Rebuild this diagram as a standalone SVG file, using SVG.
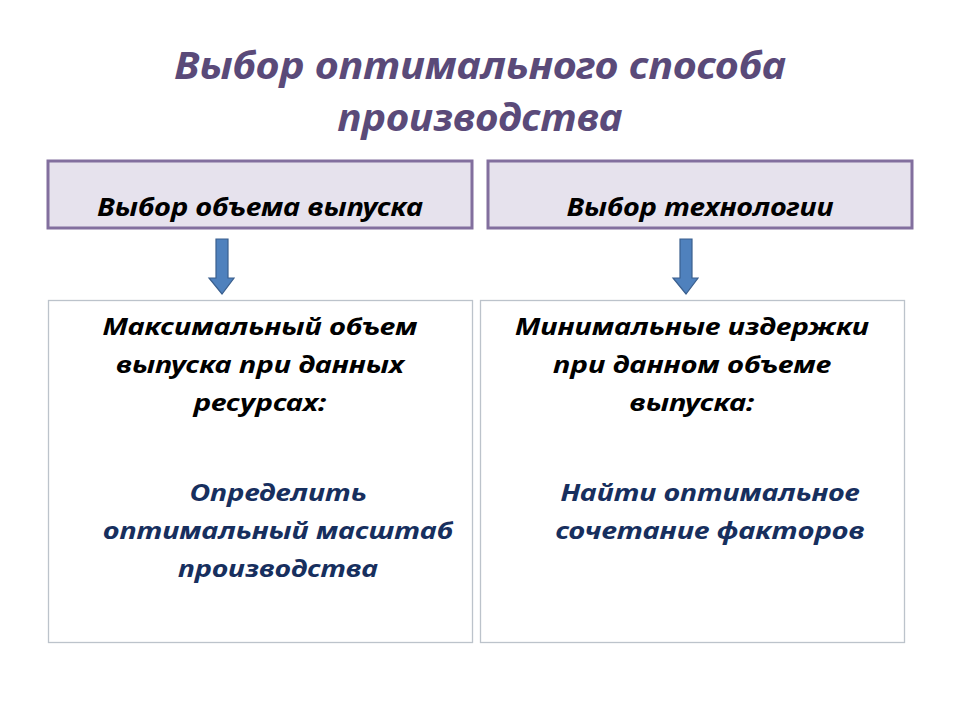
<svg xmlns="http://www.w3.org/2000/svg" width="960" height="720" viewBox="0 0 960 720">
<style>
  .t{font-family:"Noto Sans","Open Sans","DejaVu Sans",sans-serif;font-weight:bold;font-style:italic;text-anchor:middle}
  .title{font-size:37px;fill:#5a4a79}
  .hdr{font-size:25px;fill:#000}
  .blk{font-size:24px;fill:#000}
  .blu{font-size:24px;fill:#172f5e}
  .hbox{fill:#e6e2ed;stroke:#826f9e;stroke-width:3}
  .box{fill:#ffffff;stroke:#bcc3cb;stroke-width:1.3}
  .arr{fill:#4f81bd;stroke:#3a5f8e;stroke-width:1.2}
</style>
<rect width="960" height="720" fill="#ffffff"/>
<g id="title">
  <text class="t title" x="480" y="79" textLength="612" lengthAdjust="spacingAndGlyphs">Выбор оптимального способа</text>
  <text class="t title" x="480" y="131" textLength="285" lengthAdjust="spacingAndGlyphs">производства</text>
</g>
<g id="node-volume">
  <rect class="hbox" x="48" y="161" width="424" height="67"/>
  <text class="t hdr" x="260" y="216" textLength="326" lengthAdjust="spacingAndGlyphs">Выбор объема выпуска</text>
</g>
<g id="node-tech">
  <rect class="hbox" x="488" y="161" width="424" height="67"/>
  <text class="t hdr" x="700" y="216" textLength="267" lengthAdjust="spacingAndGlyphs">Выбор технологии</text>
</g>
<g id="node-max">
  <rect class="box" x="48.5" y="300.5" width="424" height="342"/>
  <text class="t blk" x="260" y="335" textLength="315" lengthAdjust="spacingAndGlyphs">Максимальный объем</text>
  <text class="t blk" x="260" y="373" textLength="288" lengthAdjust="spacingAndGlyphs">выпуска при данных</text>
  <text class="t blk" x="260" y="411" textLength="133" lengthAdjust="spacingAndGlyphs">ресурсах:</text>
  <text class="t blu" x="278" y="501" textLength="177" lengthAdjust="spacingAndGlyphs">Определить</text>
  <text class="t blu" x="278" y="539" textLength="350" lengthAdjust="spacingAndGlyphs">оптимальный масштаб</text>
  <text class="t blu" x="278" y="577" textLength="200" lengthAdjust="spacingAndGlyphs">производства</text>
</g>
<g id="node-min">
  <rect class="box" x="480.5" y="300.5" width="424" height="342"/>
  <text class="t blk" x="692" y="335" textLength="354" lengthAdjust="spacingAndGlyphs">Минимальные издержки</text>
  <text class="t blk" x="692" y="373" textLength="278" lengthAdjust="spacingAndGlyphs">при данном объеме</text>
  <text class="t blk" x="692" y="411" textLength="125" lengthAdjust="spacingAndGlyphs">выпуска:</text>
  <text class="t blu" x="710" y="501" textLength="299" lengthAdjust="spacingAndGlyphs">Найти оптимальное</text>
  <text class="t blu" x="710" y="539" textLength="309" lengthAdjust="spacingAndGlyphs">сочетание факторов</text>
</g>
<g id="connectors">
  <path class="arr" d="M216,239 H228 V278 H234 L222,294 L209,278 H216 Z"/>
  <path class="arr" d="M680,239 H692 V278 H698 L686,294 L673,278 H680 Z"/>
</g>
</svg>
